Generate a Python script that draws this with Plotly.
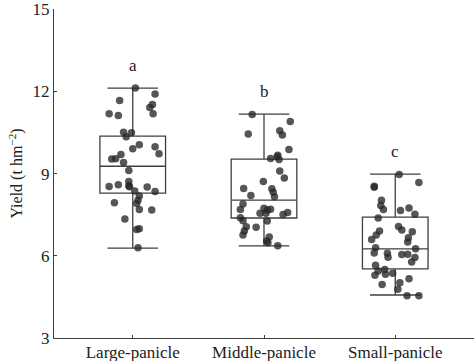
import plotly.graph_objects as go

categories = ["Large-panicle", "Middle-panicle", "Small-panicle"]
letters = ["a", "b", "c"]

# box statistics
q1 = [8.29, 7.38, 5.52]
median = [9.27, 8.03, 6.25]
q3 = [10.37, 9.53, 7.41]
lower_fence = [6.28, 6.36, 4.57]
upper_fence = [12.12, 11.17, 8.98]

# individual observations (yield) and their horizontal jitter offsets as drawn
large_y = [12.13, 11.91, 11.67, 11.52, 11.41, 11.19, 11.12, 11.19, 10.51, 10.49,
           10.35, 9.91, 10.05, 9.98, 9.73, 9.70, 9.54, 9.53, 9.41, 9.11,
           8.71, 8.56, 8.52, 8.53, 8.59, 8.51, 8.35, 8.37, 8.18, 8.03,
           7.91, 7.94, 7.69, 7.67, 7.34, 6.99, 6.96, 6.29]
large_dx = [0.02, 0.17, -0.10, 0.15, 0.13, -0.18, -0.11, 0.155, -0.07, -0.01,
            -0.05, 0.00, 0.05, 0.17, 0.20, -0.09, -0.13, -0.16, -0.07, -0.03,
            -0.03, -0.03, -0.025, -0.18, -0.11, 0.11, 0.17, 0.015, 0.05, 0.04,
            0.03, -0.14, 0.05, 0.145, -0.06, 0.05, 0.03, 0.04]

middle_y = [11.16, 10.90, 10.45, 10.57, 10.41, 9.88, 9.67, 9.62, 9.52, 9.55,
            9.10, 8.84, 8.71, 8.46, 8.45, 8.32, 8.20, 8.16, 7.89, 7.69,
            7.74, 7.70, 7.67, 7.55, 7.55, 7.58, 7.51, 7.39, 7.28, 7.27,
            7.06, 7.04, 6.91, 6.76, 6.69, 6.54, 6.48, 6.37]
middle_dx = [-0.09, 0.20, -0.12, 0.12, 0.14, 0.19, 0.105, 0.10, 0.115, 0.05,
             0.12, 0.155, -0.005, -0.155, 0.06, 0.07, -0.10, 0.08, -0.16, -0.18,
             0.00, 0.05, 0.025, -0.03, 0.015, 0.18, 0.145, -0.18, -0.16, 0.025,
             -0.135, -0.06, -0.15, -0.16, 0.04, 0.02, 0.03, 0.105]

small_y = [8.97, 8.68, 8.54, 8.50, 8.03, 7.84, 7.69, 7.65, 7.75, 7.52,
           7.38, 7.07, 6.94, 6.88, 6.91, 6.76, 6.60, 6.66, 6.50, 6.29,
           6.26, 6.10, 6.09, 5.95, 6.05, 6.06, 5.94, 5.77, 5.66, 5.50,
           5.45, 5.36, 5.33, 5.29, 5.16, 5.02, 4.95, 4.78, 4.54, 4.54]
small_dx = [0.03, 0.18, -0.16, -0.16, -0.105, -0.11, -0.09, 0.04, 0.105, 0.15,
            -0.13, 0.025, 0.05, 0.13, -0.12, -0.145, -0.18, 0.10, 0.095, -0.15,
            0.155, -0.16, -0.06, -0.055, 0.05, 0.095, 0.15, 0.125, -0.15, -0.08,
            -0.13, -0.02, -0.075, -0.155, 0.105, 0.035, -0.10, 0.02, 0.09, 0.18]

y_ticks = [3, 6, 9, 12, 15]

groups_y = [large_y, middle_y, small_y]
groups_dx = [large_dx, middle_dx, small_dx]

FONT = "Liberation Serif, Times New Roman, serif"
LINE = "#3f3f3f"

fig = go.Figure()
for i in range(len(categories)):
    fig.add_trace(go.Box(
        x=[i], q1=[q1[i]], median=[median[i]], q3=[q3[i]],
        lowerfence=[lower_fence[i]], upperfence=[upper_fence[i]],
        width=0.5, whiskerwidth=0.77, boxpoints=False,
        line=dict(color=LINE, width=1.3), fillcolor="rgba(0,0,0,0)",
        showlegend=False, hoverinfo="skip",
    ))
for i in range(len(categories)):
    fig.add_trace(go.Scatter(
        x=[i + d for d in groups_dx[i]], y=groups_y[i], mode="markers",
        marker=dict(size=7.5, color="rgba(38,38,38,0.78)", line=dict(width=0)),
        showlegend=False,
    ))
for i in range(len(categories)):
    fig.add_annotation(x=i, y=upper_fence[i] + 0.82, text=letters[i], showarrow=False,
                       font=dict(family=FONT, size=17, color="#222"), yanchor="middle")

fig.update_layout(
    width=474, height=361,
    margin=dict(l=54, r=0, t=9, b=23),
    paper_bgcolor="white", plot_bgcolor="white",
    font=dict(family=FONT, size=17, color="#222"),
    xaxis=dict(range=[-0.6, 2.6], tickvals=list(range(len(categories))), ticktext=categories,
               showline=True, linecolor=LINE, linewidth=1.2, ticks="inside", ticklen=3,
               tickcolor=LINE, showgrid=False, zeroline=False, automargin=False,
               ticklabelstandoff=-2, tickfont=dict(family=FONT, size=17)),
    yaxis=dict(range=[3, 15.01], tickvals=y_ticks, showline=True, linecolor=LINE, linewidth=1.2,
               ticks="inside", ticklen=3, tickcolor=LINE, showgrid=False, zeroline=False,
               automargin=False, tickfont=dict(family=FONT, size=17),
               title=dict(text="Yield (t hm<sup>\u22122</sup>)", standoff=5,
                          font=dict(family=FONT, size=16))),
)
fig.write_html("out.html", config={"displayModeBar": False},
               post_script="document.body.style.margin='0';document.body.style.overflow='hidden';")
